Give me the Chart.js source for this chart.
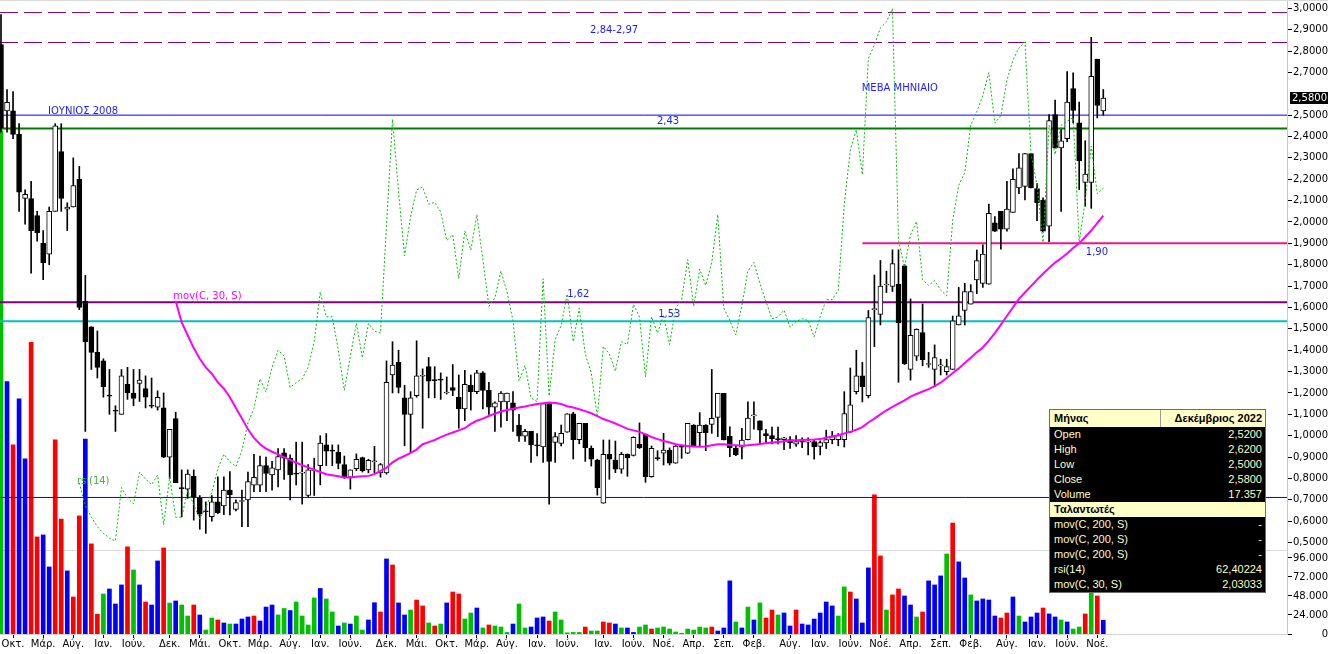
<!DOCTYPE html>
<html lang="el">
<head>
<meta charset="UTF-8">
<title>Μηνιαίο γράφημα</title>
<script src="https://cdn.jsdelivr.net/npm/chart.js"></script>
<style>
    body { margin: 0; background: #fff; }
    #wrap { position: relative; width: 1328px; height: 654px; overflow: hidden; }
    #info {
        position: absolute; left: 1049px; top: 409px; width: 215px;
        background: #000; border: 1px solid #6c6c6c;
        font: 11px "Liberation Sans", Arial, sans-serif; color: #ffffc0;
    }
    #info .hd { display: flex; height: 17px; line-height: 17px; background: #ffffc8; color: #000; font-weight: bold; }
    #info .hd .c1 { width: 106px; padding-left: 4px; border-right: 1px solid #9a9a9a; }
    #info .hd .c2 { flex: 1; text-align: right; padding-right: 3px; }
    #info .r { display: flex; justify-content: space-between; height: 15px; line-height: 15px; padding: 0 3px 0 4px; }
    #info .sub { height: 15px; line-height: 15px; padding-left: 4px; background: #ffffc8; color: #000; font-weight: bold; }
</style>
</head>
<body>
<div id="wrap">
    <canvas id="chart" width="1328" height="654"></canvas>
    <div id="info">
        <div class="hd"><span class="c1">Μήνας</span><span class="c2">Δεκέμβριος 2022</span></div>
        <div class="r"><span>Open</span><span id="vOpen"></span></div>
        <div class="r"><span>High</span><span id="vHigh"></span></div>
        <div class="r"><span>Low</span><span id="vLow"></span></div>
        <div class="r"><span>Close</span><span id="vClose"></span></div>
        <div class="r"><span>Volume</span><span id="vVol"></span></div>
        <div class="sub">Ταλαντωτές</div>
        <div class="r"><span>mov(C, 200, S)</span><span>-</span></div>
        <div class="r"><span>mov(C, 200, S)</span><span>-</span></div>
        <div class="r"><span>mov(C, 200, S)</span><span>-</span></div>
        <div class="r"><span>rsi(14)</span><span id="vRsi"></span></div>
        <div class="r"><span>mov(C, 30, S)</span><span id="vMa"></span></div>
    </div>
</div>

<script>
// Μηνιαία κεριά, από Αύγ. 2007 έως Δεκ. 2022 (χωρίς Ιούλ. 2015)
const openP = [
    2.83, 2.52, 2.52, 2.41, 2.11, 2.11, 2.03, 1.90, 1.85, 2.05,
    2.33, 2.06, 2.07, 2.20, 1.63, 1.51, 1.39, 1.35, 1.19, 1.12,
    1.10, 1.24, 1.20, 1.245, 1.22, 1.14, 1.133, 1.13, 0.90, 1.08,
    0.755, 0.75, 0.81, 0.707, 0.646, 0.621, 0.691, 0.672, 0.746, 0.655,
    0.692, 0.699, 0.769, 0.769, 0.86, 0.816, 0.84, 0.92, 0.895, 0.825,
    0.825, 0.72, 0.835, 0.86, 0.957, 0.93, 0.923, 0.865, 0.806, 0.846,
    0.898, 0.84, 0.878, 0.826, 0.826, 1.285, 1.343, 1.177, 1.10, 1.187,
    1.278, 1.323, 1.26, 1.262, 1.20, 1.225, 1.18, 1.125, 1.236, 1.206,
    1.294, 1.212, 1.134, 1.158, 1.158, 1.154, 1.05, 0.998, 1.021, 0.955,
    0.947, 1.15, 0.968, 0.964, 1.016, 1.102, 0.981, 1.058, 0.941, 0.886,
    0.684, 0.913, 0.886, 0.843, 0.913, 0.908, 0.96, 1.008, 0.808, 0.894,
    0.918, 0.933, 0.871, 0.947, 0.918, 1.05, 1.014, 1.05, 1.053, 1.086,
    1.198, 0.997, 0.941, 0.946, 0.982, 1.093, 1.07, 1.01, 1.00, 0.983,
    0.982, 0.982, 0.96, 0.972, 0.97, 0.972, 0.95, 0.966, 0.982, 0.982,
    0.982, 1.017, 1.206, 1.28, 1.187, 1.59, 1.567, 1.705, 1.698, 1.71,
    1.795, 1.31, 1.372, 1.483, 1.333, 1.31, 1.327, 1.30, 1.31, 1.518,
    1.586, 1.616, 1.729, 1.713, 1.709, 1.996, 2.05, 1.967, 2.045, 2.16,
    2.166, 2.32, 2.156, 2.103, 1.98, 2.503, 2.347, 2.39, 2.624, 2.464,
    2.185, 2.185, 2.762, 2.52
];
const highP = [
    2.97, 2.62, 2.61, 2.46, 2.15, 2.19, 2.05, 1.96, 2.07, 2.46,
    2.46, 2.09, 2.30, 2.26, 1.75, 1.51, 1.49, 1.36, 1.31, 1.14,
    1.31, 1.32, 1.31, 1.31, 1.28, 1.27, 1.21, 1.20, 1.03, 1.11,
    0.84, 0.84, 0.84, 0.72, 0.69, 0.72, 0.808, 0.808, 0.832, 0.70,
    0.746, 0.83, 0.913, 0.905, 0.90, 0.88, 0.94, 0.94, 0.91, 0.97,
    0.97, 0.865, 0.895, 1.00, 1.01, 0.957, 0.957, 0.905, 0.84, 0.915,
    0.90, 0.89, 0.95, 0.87, 1.35, 1.44, 1.40, 1.236, 1.206, 1.444,
    1.313, 1.366, 1.323, 1.294, 1.275, 1.333, 1.284, 1.306, 1.284, 1.306,
    1.30, 1.25, 1.158, 1.206, 1.20, 1.206, 1.10, 1.03, 1.021, 1.01,
    1.152, 1.152, 1.015, 1.05, 1.103, 1.11, 1.058, 1.058, 0.952, 0.89,
    0.98, 0.98, 0.975, 0.922, 0.915, 0.995, 1.06, 1.008, 0.952, 0.93,
    1.011, 0.943, 0.955, 0.956, 1.058, 1.052, 1.108, 1.052, 1.31, 1.198,
    1.198, 1.042, 0.953, 1.034, 1.158, 1.158, 1.07, 1.03, 1.04, 1.04,
    0.992, 0.996, 1.00, 0.99, 0.99, 0.982, 0.976, 1.026, 1.02, 1.01,
    1.206, 1.317, 1.40, 1.343, 1.586, 1.752, 1.82, 1.77, 1.87, 1.87,
    1.80, 1.64, 1.50, 1.616, 1.39, 1.425, 1.358, 1.358, 1.56, 1.694,
    1.713, 1.707, 1.869, 1.893, 2.084, 2.025, 2.05, 2.19, 2.249, 2.32,
    2.32, 2.32, 2.18, 2.113, 2.503, 2.571, 2.435, 2.704, 2.698, 2.561,
    2.38, 2.864, 2.762, 2.62
];
const lowP = [
    2.42, 2.42, 2.39, 2.05, 1.99, 1.76, 1.91, 1.73, 1.80, 2.05,
    2.05, 1.96, 2.07, 1.59, 1.02, 1.31, 1.27, 1.18, 1.10, 1.02,
    1.10, 1.17, 1.14, 1.16, 1.13, 1.13, 1.12, 0.897, 0.80, 0.78,
    0.62, 0.707, 0.605, 0.562, 0.543, 0.60, 0.635, 0.63, 0.629, 0.648,
    0.574, 0.574, 0.738, 0.738, 0.738, 0.745, 0.76, 0.795, 0.70, 0.77,
    0.68, 0.715, 0.72, 0.77, 0.86, 0.86, 0.845, 0.80, 0.75, 0.836,
    0.83, 0.826, 0.826, 0.806, 0.82, 1.20, 1.20, 0.953, 0.925, 1.18,
    1.035, 1.177, 1.177, 1.17, 1.195, 1.187, 1.035, 1.07, 1.12, 1.197,
    1.125, 1.10, 1.02, 1.04, 1.07, 1.02, 0.973, 0.973, 0.875, 0.905,
    0.875, 0.68, 0.875, 0.952, 1.016, 0.891, 0.962, 0.88, 0.858, 0.722,
    0.684, 0.796, 0.827, 0.824, 0.81, 0.905, 0.94, 0.782, 0.806, 0.885,
    0.863, 0.863, 0.871, 0.894, 0.916, 0.952, 0.952, 0.93, 1.011, 0.996,
    0.98, 0.902, 0.907, 0.891, 0.98, 1.03, 0.962, 0.966, 0.962, 0.962,
    0.935, 0.94, 0.95, 0.944, 0.91, 0.89, 0.91, 0.94, 0.962, 0.953,
    0.947, 1.015, 1.195, 1.158, 1.177, 1.417, 1.518, 1.67, 1.675, 1.25,
    1.333, 1.26, 1.352, 1.327, 1.32, 1.23, 1.284, 1.284, 1.31, 1.518,
    1.518, 1.616, 1.664, 1.694, 1.709, 1.955, 1.873, 1.957, 2.045, 2.132,
    2.103, 2.16, 2.006, 1.955, 1.908, 2.345, 2.049, 2.376, 2.464, 2.152,
    2.074, 2.064, 2.487, 2.50
];
const closeP = [
    2.44, 2.56, 2.41, 2.14, 2.13, 1.96, 1.95, 1.81, 2.05, 2.45,
    2.11, 2.07, 2.17, 1.60, 1.44, 1.39, 1.32, 1.23, 1.185, 1.115,
    1.28, 1.20, 1.175, 1.26, 1.18, 1.138, 1.18, 0.90, 1.03, 0.78,
    0.752, 0.82, 0.715, 0.633, 0.644, 0.691, 0.64, 0.746, 0.724, 0.687,
    0.694, 0.785, 0.805, 0.86, 0.824, 0.85, 0.902, 0.895, 0.816, 0.82,
    0.826, 0.84, 0.836, 0.965, 0.928, 0.928, 0.87, 0.806, 0.84, 0.89,
    0.836, 0.885, 0.88, 0.865, 1.25, 1.33, 1.226, 1.10, 1.177, 1.28,
    1.28, 1.255, 1.258, 1.26, 1.201, 1.212, 1.125, 1.24, 1.206, 1.294,
    1.212, 1.134, 1.154, 1.20, 1.20, 1.12, 0.998, 1.02, 0.957, 0.953,
    1.15, 0.88, 0.996, 1.011, 1.102, 0.981, 1.058, 0.944, 0.89, 0.757,
    0.913, 0.89, 0.843, 0.913, 0.897, 0.992, 0.944, 0.808, 0.941, 0.893,
    0.933, 0.871, 0.952, 0.946, 1.058, 0.952, 1.05, 1.014, 1.081, 1.198,
    0.98, 0.944, 0.91, 0.98, 1.083, 1.095, 1.026, 1.00, 0.986, 0.982,
    0.99, 0.966, 0.972, 0.97, 0.972, 0.947, 0.968, 0.982, 0.996, 1.00,
    1.103, 1.144, 1.28, 1.23, 1.553, 1.592, 1.70, 1.71, 1.805, 1.528,
    1.337, 1.47, 1.498, 1.356, 1.335, 1.366, 1.33, 1.323, 1.538, 1.561,
    1.674, 1.674, 1.82, 1.85, 2.041, 1.957, 1.967, 2.06, 2.20, 2.253,
    2.32, 2.16, 2.09, 1.957, 2.474, 2.347, 2.38, 2.561, 2.522, 2.286,
    2.224, 2.682, 2.546, 2.58
];
const volume = [
    635000, 318600, 238700, 296800, 221000, 368000, 122500, 125000, 84600, 245000,
    145000, 79600, 46700, 149000, 246000, 113700, 25000, 50500, 56800, 37900,
    61900, 110000, 80800, 61900, 40400, 36600, 92200, 108600, 39000, 41700,
    36600, 22700, 36600, 24000, 5000, 20200, 17700, 13900, 12600, 12600,
    18900, 21500, 22700, 16400, 34000, 36600, 24000, 32200, 29600, 40400,
    22700, 11400, 45500, 57500, 44200, 27800, 10100, 13900, 12600, 22700,
    5000, 17700, 39500, 27800, 94700, 87100, 39200, 24000, 30300, 42900,
    35400, 13900, 10100, 12600, 39200, 53000, 50500, 18900, 26500, 32800,
    7600, 11400, 10100, 8800, 2000, 12600, 37900, 7600, 8800, 20200,
    21500, 16400, 27800, 17700, 1500, 2000, 2000, 8800, 3800, 3800,
    15200, 13900, 12600, 7600, 7600, 2000, 8800, 11400, 6300, 7600,
    8800, 6300, 2500, 1000, 6300, 5000, 8800, 7600, 8800, 3800,
    7600, 67000, 15200, 7600, 34000, 17700, 39200, 20200, 30300, 24000,
    26500, 10100, 30300, 12600, 11400, 18900, 26500, 40400, 35400, 22700,
    59400, 53000, 44200, 13900, 83400, 175600, 98500, 30300, 49300, 56800,
    48000, 36600, 21500, 27800, 67000, 61900, 73300, 101000, 140000, 91000,
    70700, 49300, 41700, 44200, 42900, 22700, 20200, 26500, 46700, 22700,
    15200, 21500, 26500, 32800, 25300, 21500, 17700, 15200, 6300, 8800,
    25300, 60000, 48000, 17357
];
// b = μπλε, r = κόκκινο, g = πράσινο
const volumeClass = (
    'gbrbbrrbbr' + 'rbrrbrrgbb' + 'brgbrbbrgb' + 'ggrbggrbgb' + 'bbrbbbggbg' +
    'gggbggbgbg' + 'gbbrbrbbgr' + 'rgrgbrrggb' + 'grgggbggbb' + 'brgggggrgg' +
    'rrbgbbggrg' + 'ggggggggrb' + 'bbgbgbgrrg' + 'bbrbbbbbbg' + 'grbbbrrgrr' +
    'bbgrbbbgrb' + 'bgbbbbrrbg' + 'bbbrbbgbgg' + 'rgrb'
).split('');

// mov(C, 30, S) από το κερί 29
const ma30Start = 29;
const ma30 = [
    1.63, 1.53, 1.47, 1.41, 1.36, 1.32, 1.29, 1.25, 1.22, 1.18,
    1.13, 1.08, 1.03, 0.99, 0.96, 0.94, 0.925, 0.913, 0.90, 0.887,
    0.874, 0.862, 0.852, 0.84, 0.83, 0.82, 0.815, 0.81, 0.805, 0.805,
    0.808, 0.81, 0.812, 0.82, 0.835, 0.85, 0.875, 0.893, 0.905, 0.92,
    0.935, 0.96, 0.97, 0.98, 0.993, 1.005, 1.015, 1.025, 1.035, 1.055,
    1.07, 1.08, 1.092, 1.103, 1.113, 1.12, 1.126, 1.132, 1.137, 1.143,
    1.148, 1.152, 1.155, 1.153, 1.148, 1.138, 1.132, 1.124, 1.115, 1.105,
    1.092, 1.078, 1.068, 1.057, 1.045, 1.032, 1.025, 1.018, 1.006, 0.994,
    0.984, 0.975, 0.968, 0.96, 0.955, 0.952, 0.949, 0.948, 0.949, 0.955,
    0.96, 0.96, 0.957, 0.955, 0.953, 0.955, 0.958, 0.961, 0.965, 0.968,
    0.971, 0.974, 0.977, 0.979, 0.98, 0.981, 0.982, 0.984, 0.99, 0.996,
    1.002, 1.01, 1.018, 1.028, 1.04, 1.062, 1.08, 1.10, 1.119, 1.135,
    1.15, 1.165, 1.183, 1.195, 1.207, 1.218, 1.232, 1.248, 1.27, 1.293,
    1.315, 1.34, 1.365, 1.39, 1.413, 1.445, 1.48, 1.52, 1.56, 1.60,
    1.64, 1.67, 1.70, 1.73, 1.758, 1.785, 1.81, 1.83, 1.853, 1.878,
    1.90, 1.93, 1.96, 1.995, 2.03033
];
// rsi(14) από το κερί 13
const rsiStart = 13;
const rsi14 = [
    31.5, 29.1, 27.9, 26.9, 26.2, 25.7, 25.4, 31.0, 29.9, 29.3,
    32.6, 31.9, 31.3, 32.3, 27.1, 32.1, 27.9, 27.9, 30.7, 29.2,
    27.7, 28.9, 30.5, 33.0, 34.5, 33.7, 33.2, 34.9, 37.8, 39.3,
    42.4, 41.0, 43.6, 45.4, 44.8, 41.5, 42.0, 42.4, 43.6, 46.3,
    51.5, 48.9, 48.9, 45.4, 41.2, 44.8, 48.2, 44.6, 48.2, 47.4,
    47.2, 58.5, 69.6, 62.0, 55.3, 59.4, 62.2, 62.5, 60.7, 60.9,
    59.9, 56.9, 57.5, 52.9, 57.9, 55.9, 59.6, 54.9, 50.0, 50.9,
    53.7, 51.5, 48.5, 42.2, 43.8, 40.4, 40.0, 52.9, 40.6, 46.5,
    48.0, 51.3, 46.3, 49.8, 45.0, 43.0, 38.4, 45.8, 45.0, 43.2,
    46.3, 46.0, 50.2, 48.9, 42.6, 48.9, 47.2, 49.1, 46.0, 49.8,
    50.7, 54.9, 50.0, 53.9, 52.2, 54.6, 59.6, 49.8, 48.5, 47.0,
    50.1, 53.7, 54.6, 52.4, 50.5, 48.7, 48.9, 49.6, 47.8, 48.4,
    48.7, 48.5, 46.8, 48.9, 50.7, 50.7, 51.7, 60.7, 66.4, 68.5,
    63.8, 76.0, 77.4, 79.2, 79.8, 81.2, 56.9, 54.1, 57.5, 58.9,
    52.8, 52.2, 52.7, 51.7, 51.1, 59.0, 62.7, 64.0, 69.0, 70.4,
    72.1, 74.5, 69.2, 70.0, 73.7, 75.8, 77.1, 77.7, 66.0, 62.7,
    56.7, 69.0, 65.9, 69.0, 69.4, 69.8, 56.7, 61.1, 66.8, 61.8,
    62.40224
];

// Οριζόντιες γραμμές (τιμή, κερί έναρξης)
const levelPrices = [2.98, 2.84, 2.50, 2.437, 1.90, 1.625, 1.536, 0.711];
const levelStart  = [null, null, null, null, 143, null, null, null];

// Σημειώσεις πάνω στο γράφημα: κείμενο, [κερί, τιμή]
const noteText = ['2,84-2,97', 'ΙΟΥΝΙΟΣ 2008', '2,43', 'ΜΕΒΑ ΜΗΝΙΑΙΟ', '1,62', '1,53', '1,90', 'mov(C, 30, S)', 'rsi(14)'];
const noteAt   = [[97.8, 2.898], [7.8, 2.519], [108.9, 2.473], [142.9, 2.627], [94, 1.66], [109.1, 1.567], [180.1, 1.86], [28.6, 1.65], [12.6, 0.787]];

// Άξονες
const xTickIndex = [2, 7, 12, 17, 22, 28, 33, 38, 43, 48, 53, 58, 64, 69, 74, 79, 84, 89, 94, 100,
    105, 110, 115, 120, 125, 131, 136, 141, 146, 151, 156, 161, 167, 172, 177, 182];
const xTickText = ['Οκτ.', 'Μάρ.', 'Αύγ.', 'Ιαν.', 'Ιούν.', 'Δεκ.', 'Μάι.', 'Οκτ.', 'Μάρ.', 'Αύγ.',
    'Ιαν.', 'Ιούν.', 'Δεκ.', 'Μάι.', 'Οκτ.', 'Μάρ.', 'Αύγ.', 'Ιαν.', 'Ιούν.', 'Ιαν.',
    'Ιούν.', 'Νοέ.', 'Απρ.', 'Σεπ.', 'Φεβ.', 'Αύγ.', 'Ιαν.', 'Ιούν.', 'Νοέ.', 'Απρ.',
    'Σεπ.', 'Φεβ.', 'Αύγ.', 'Ιαν.', 'Ιούν.', 'Νοέ.'];
const priceTicks = [0.5, 0.6, 0.7, 0.8, 0.9, 1.0, 1.1, 1.2, 1.3, 1.4, 1.5, 1.6, 1.7, 1.8, 1.9,
    2.0, 2.1, 2.2, 2.3, 2.4, 2.5, 2.7, 2.8, 2.9, 3.0];
const volumeTicks = [0, 24000, 48000, 72000, 96000];

// ---- εμφάνιση ----
const X_MIN = -0.166, X_MAX = 213.5;
const P_MIN = 0.0721, P_MAX = 3.0388;
const V_MAX = 800000;
const R_MIN = 15.65, R_MAX = 82.11;

const VOL_COLORS = { b: '#0000ff', r: '#ff0000', g: '#00c000' };
const LEVEL_STYLE = [
    { color: '#800080', width: 1, dash: [18, 6] },
    { color: '#800080', width: 1, dash: [18, 6] },
    { color: '#0000ff', width: 1 },
    { color: '#007a00', width: 2 },
    { color: '#f0148c', width: 2 },
    { color: '#800080', width: 2 },
    { color: '#00c0c0', width: 2 },
    { color: '#0000ff', width: 1 }
];
const NOTE_COLOR = ['#1c1cff', '#1c1cff', '#1c1cff', '#1c1cff', '#1c1cff', '#1c1cff', '#1c1cff', '#ff00ff', '#3cb83c'];

const fmtPrice = v => v.toFixed(4).replace('.', ',');
const fmtVol = v => String(v).replace(/\B(?=(\d{3})+(?!\d))/g, '.');

const N = closeP.length;
const idx = closeP.map((_, i) => i);

const overlay = {
    id: 'overlay',
    beforeDatasetsDraw(chart) {
        const { ctx, chartArea, scales } = chart;
        const ySplit = Math.round(scales.yv.getPixelForValue(106000)) + 0.5;
        ctx.save();
        ctx.strokeStyle = '#dadada';
        ctx.lineWidth = 1;
        ctx.beginPath();
        ctx.moveTo(chartArea.left, ySplit);
        ctx.lineTo(chartArea.right, ySplit);
        ctx.moveTo(0, 0.5);
        ctx.lineTo(chart.width, 0.5);
        ctx.stroke();
        ctx.restore();
    },
    afterDatasetsDraw(chart) {
        const { ctx, chartArea, scales: { x, y } } = chart;
        ctx.save();
        ctx.font = '10px "DejaVu Sans", sans-serif';
        ctx.textAlign = 'left';
        ctx.textBaseline = 'middle';
        noteText.forEach((t, k) => {
            ctx.fillStyle = NOTE_COLOR[k];
            ctx.fillText(t, x.getPixelForValue(noteAt[k][0]), y.getPixelForValue(noteAt[k][1]));
        });
        // ετικέτα τελευταίας τιμής
        const py = y.getPixelForValue(closeP[N - 1]);
        ctx.fillStyle = '#000';
        ctx.fillRect(chartArea.right + 3, Math.round(py) - 6, 41, 12);
        ctx.fillStyle = '#fff';
        ctx.fillText(fmtPrice(closeP[N - 1]), chartArea.right + 5, py);
        ctx.restore();
    }
};

Chart.defaults.font.family = '"DejaVu Sans", sans-serif';
Chart.defaults.font.size = 10;

const levelSets = levelPrices.map((p, k) => ({
    type: 'line',
    data: [{ x: levelStart[k] ?? X_MIN, y: p }, { x: X_MAX, y: p }],
    yAxisID: 'y',
    borderColor: LEVEL_STYLE[k].color,
    borderWidth: LEVEL_STYLE[k].width,
    borderDash: LEVEL_STYLE[k].dash || [],
    pointRadius: 0,
    order: 5
}));

new Chart(document.getElementById('chart'), {
    type: 'bar',
    data: {
        datasets: [
            {
                type: 'bar',
                data: idx.map(i => ({ x: i, y: volume[i] })),
                yAxisID: 'yv',
                backgroundColor: volumeClass.map(k => VOL_COLORS[k]),
                barThickness: 4,
                grouped: false,
                order: 6
            },
            ...levelSets,
            {
                type: 'bar',
                data: idx.map(i => ({ x: i, y: [lowP[i], highP[i]] })),
                yAxisID: 'y',
                backgroundColor: '#000',
                barThickness: 1,
                grouped: false,
                order: 4
            },
            {
                type: 'bar',
                data: idx.map(i => ({ x: i, y: [openP[i], closeP[i]] })),
                yAxisID: 'y',
                backgroundColor: idx.map(i => closeP[i] >= openP[i] ? '#ffffff' : '#000000'),
                borderColor: '#000',
                borderWidth: 1,
                borderSkipped: false,
                minBarLength: 1,
                barThickness: 5,
                grouped: false,
                order: 3
            },
            {
                type: 'line',
                data: ma30.map((v, k) => ({ x: ma30Start + k, y: v })),
                yAxisID: 'y',
                borderColor: '#ff00ff',
                borderWidth: 2,
                pointRadius: 0,
                order: 2
            },
            {
                type: 'line',
                data: rsi14.map((v, k) => ({ x: rsiStart + k, y: v })),
                yAxisID: 'yr',
                borderColor: '#00c000',
                borderWidth: 1,
                borderDash: [2, 2],
                pointRadius: 0,
                order: 1
            }
        ]
    },
    options: {
        responsive: false,
        animation: false,
        devicePixelRatio: 1,
        layout: { padding: 0, autoPadding: false },
        plugins: { legend: { display: false }, tooltip: { enabled: false } },
        scales: {
            x: {
                type: 'linear',
                position: 'bottom',
                offset: false,
                min: X_MIN,
                max: X_MAX,
                afterBuildTicks: s => { s.ticks = xTickIndex.map(v => ({ value: v })); },
                afterFit: s => { s.height = 20; s.paddingLeft = 0; s.paddingRight = 0; },
                ticks: {
                    autoSkip: false, maxRotation: 0, padding: 0, color: '#000',
                    callback: (v, i) => xTickText[i]
                },
                grid: { offset: false, drawOnChartArea: false, drawTicks: true, tickLength: 4, color: '#000' },
                border: { color: '#d6d6d6' }
            },
            y: {
                type: 'linear',
                position: 'right',
                min: P_MIN,
                max: P_MAX,
                afterBuildTicks: s => {
                    s.ticks = [
                        ...volumeTicks.map(v => ({ value: P_MIN + v / V_MAX * (P_MAX - P_MIN), vol: v })),
                        ...priceTicks.map(v => ({ value: v }))
                    ];
                },
                afterFit: s => { s.width = 41; s.paddingTop = 0; s.paddingBottom = 0; },
                ticks: {
                    autoSkip: false, padding: 1, color: '#000', crossAlign: 'far',
                    callback: (v, i, t) => t[i].vol !== undefined ? fmtVol(t[i].vol) : fmtPrice(v)
                },
                grid: { drawOnChartArea: false, drawTicks: true, tickLength: 5, color: '#000' },
                border: { color: '#c8c8c8' }
            },
            yv: { type: 'linear', display: false, min: 0, max: V_MAX },
            yr: { type: 'linear', display: false, min: R_MIN, max: R_MAX }
        }
    },
    plugins: [overlay]
});

// Πίνακας πληροφοριών τελευταίου μήνα
document.getElementById('vOpen').textContent = fmtPrice(openP[N - 1]);
document.getElementById('vHigh').textContent = fmtPrice(highP[N - 1]);
document.getElementById('vLow').textContent = fmtPrice(lowP[N - 1]);
document.getElementById('vClose').textContent = fmtPrice(closeP[N - 1]);
document.getElementById('vVol').textContent = fmtVol(volume[N - 1]);
document.getElementById('vRsi').textContent = rsi14[rsi14.length - 1].toFixed(5).replace('.', ',');
document.getElementById('vMa').textContent = ma30[ma30.length - 1].toFixed(5).replace('.', ',');
</script>
</body>
</html>
